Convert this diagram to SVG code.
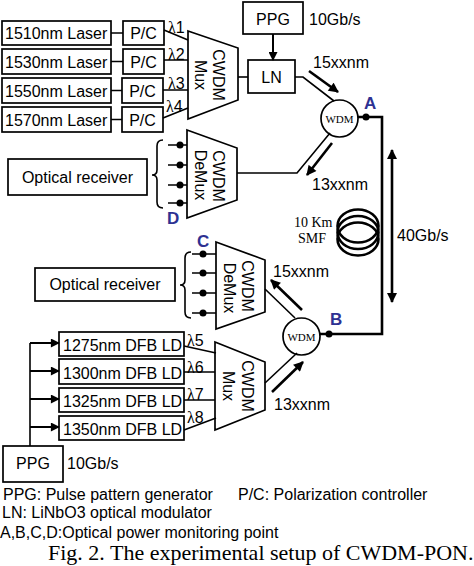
<svg xmlns="http://www.w3.org/2000/svg" width="474" height="566" viewBox="0 0 474 566">
<style>
.b{fill:#fff;stroke:#000;stroke-width:1.7}
.l{fill:none;stroke:#000;stroke-width:1.6}
.tl{fill:none;stroke:#000;stroke-width:2.6}
.t{font-family:"Liberation Sans",Arial,sans-serif;font-size:16px;fill:#000}
.s{font-family:"Liberation Serif","Times New Roman",serif;fill:#000}
.g{font-family:"Liberation Serif","Times New Roman",serif}
.m{text-anchor:middle}
.pt{font-family:"Liberation Sans",Arial,sans-serif;font-size:17px;font-weight:bold;fill:#2e3192}
</style>
<defs>
<marker id="ah" viewBox="0 0 10 10" refX="9" refY="5" markerWidth="11" markerHeight="10" markerUnits="userSpaceOnUse" orient="auto-start-reverse"><path d="M0,0 L10,5 L0,10 z" fill="#000"/></marker>
<marker id="ahs" viewBox="0 0 10 10" refX="9" refY="5" markerWidth="10" markerHeight="9" markerUnits="userSpaceOnUse" orient="auto"><path d="M0,0 L10,5 L0,10 z" fill="#000"/></marker>
</defs>

<g id="laser1510"><rect class="b" x="2" y="21" width="109" height="24"/><text class="t" x="5" y="39">1510nm Laser</text></g>
<g id="laser1530"><rect class="b" x="2" y="49" width="109" height="25"/><text class="t" x="5" y="68">1530nm Laser</text></g>
<g id="laser1550"><rect class="b" x="2" y="78" width="109" height="25"/><text class="t" x="5" y="97">1550nm Laser</text></g>
<g id="laser1570"><rect class="b" x="2" y="107" width="109" height="25"/><text class="t" x="5" y="126">1570nm Laser</text></g>

<g id="pc1"><rect class="b" x="123" y="21" width="41" height="24"/><text class="t m" x="143.5" y="39">P/C</text></g>
<g id="pc2"><rect class="b" x="123" y="49" width="41" height="25"/><text class="t m" x="143.5" y="68">P/C</text></g>
<g id="pc3"><rect class="b" x="122" y="78" width="41" height="25"/><text class="t m" x="142.5" y="97">P/C</text></g>
<g id="pc4"><rect class="b" x="122" y="107" width="41" height="25"/><text class="t m" x="142.5" y="126">P/C</text></g>

<g id="mux1"><polygon class="b" points="188,31 238,48 238,100 188,119"/>
<text class="t m" transform="translate(213,75) rotate(90)">CWDM</text>
<text class="t m" transform="translate(195,75) rotate(90)">Mux</text></g>

<g id="ppg1"><rect class="b" x="243" y="2" width="60" height="32"/><text class="t m" x="273" y="25">PPG</text><text class="t" x="309" y="25">10Gb/s</text></g>
<g id="ln"><rect class="b" x="248" y="60" width="47" height="33"/><text class="t m" x="271.5" y="83">LN</text></g>

<g id="wdmA"><circle class="b" cx="339.5" cy="118.5" r="18.5"/><text class="s m" x="339.5" y="122.5" font-size="11">WDM</text></g>

<g id="demux1"><polygon class="b" points="187,130 237,148 237,200 187,218"/>
<text class="t m" transform="translate(213,176) rotate(90)">CWDM</text>
<text class="t m" transform="translate(195,175) rotate(90)">DeMux</text></g>
<g id="rx1"><rect class="b" x="8" y="159" width="139" height="36"/><text class="t m" x="77.5" y="183">Optical receiver</text></g>

<g id="fiber"><ellipse class="tl" cx="358" cy="226" rx="20.5" ry="16.5"/><ellipse class="tl" cx="358" cy="232.5" rx="20.5" ry="16.5"/><ellipse class="tl" cx="358" cy="239" rx="20.5" ry="16.5"/>
<text class="s" x="294" y="227" font-size="14">10 Km</text><text class="s" x="298" y="243" font-size="14">SMF</text></g>

<g id="demux2"><polygon class="b" points="216,242 265,260 265,312 216,329"/>
<text class="t m" transform="translate(242,286) rotate(90)">CWDM</text>
<text class="t m" transform="translate(224,288) rotate(90)">DeMux</text></g>
<g id="rx2"><rect class="b" x="35" y="268" width="140" height="33"/><text class="t m" x="105" y="290">Optical receiver</text></g>

<g id="wdmB"><circle class="b" cx="301.5" cy="336.5" r="18.5"/><text class="s m" x="301.5" y="340.5" font-size="11">WDM</text></g>

<g id="mux2"><polygon class="b" points="215,342 265,362 265,410 215,430"/>
<text class="t m" transform="translate(242,386) rotate(90)">CWDM</text>
<text class="t m" transform="translate(223,386) rotate(90)">Mux</text></g>

<g id="ld1275"><rect class="b" x="59" y="332" width="125" height="24"/><text class="t" x="63" y="351">1275nm DFB LD</text></g>
<g id="ld1300"><rect class="b" x="59" y="359" width="125" height="25"/><text class="t" x="63" y="379">1300nm DFB LD</text></g>
<g id="ld1325"><rect class="b" x="59" y="388" width="125" height="24"/><text class="t" x="63" y="407">1325nm DFB LD</text></g>
<g id="ld1350"><rect class="b" x="59" y="416" width="125" height="24"/><text class="t" x="63" y="435">1350nm DFB LD</text></g>

<g id="ppg2"><rect class="b" x="3" y="446" width="60" height="36"/><text class="t m" x="33" y="469">PPG</text><text class="t" x="67" y="469">10Gb/s</text></g>

<g id="connectors">
<path class="l" d="M111,33 H123 M111,61.5 H123 M111,90.5 H122 M111,119.5 H122"/>
<path class="l" d="M164,30 L188,40 M164,60 H188 M163,90 H188 M163,118 L188,108"/>
<text class="t" x="168" y="33"><tspan class="g">λ</tspan>1</text><text class="t" x="168" y="60"><tspan class="g">λ</tspan>2</text><text class="t" x="168" y="89"><tspan class="g">λ</tspan>3</text><text class="t" x="166" y="112"><tspan class="g">λ</tspan>4</text>
<path class="l" d="M238,77 H248"/>
<line x1="273" y1="34" x2="273" y2="60" stroke="#000" stroke-width="2" marker-end="url(#ahs)"/>
<path class="l" d="M295,77 H303 L334,101"/>
<line x1="309" y1="71" x2="338" y2="92" stroke="#000" stroke-width="2.6" marker-end="url(#ah)"/>
<text class="t" x="313" y="68">15xxnm</text>
<path class="tl" d="M358,117 H382 V334 H320"/>
<circle cx="366" cy="117" r="3.5" fill="#000"/><text class="pt" x="364" y="109">A</text>
<circle cx="329" cy="334" r="3.5" fill="#000"/><text class="pt" x="330" y="325">B</text>
<line x1="392" y1="150" x2="392" y2="302" stroke="#000" stroke-width="2.6" marker-start="url(#ah)" marker-end="url(#ah)"/>
<text class="t" x="397" y="241">40Gb/s</text>
<path class="l" d="M330,133 L297,173 H237"/>
<line x1="332" y1="143" x2="307" y2="175" stroke="#000" stroke-width="2.6" marker-end="url(#ah)"/>
<text class="t" x="312" y="190">13xxnm</text>
<path class="l" d="M168,145 H187 M168,165 H187 M168,185 H187 M168,203 H187"/>
<g fill="#000"><circle cx="180" cy="145" r="3.5"/><circle cx="180" cy="165" r="3.5"/><circle cx="180" cy="185" r="3.5"/><circle cx="180" cy="203" r="3.5"/></g>
<path class="l" d="M163,140 Q157,140 157,146 V170 Q157,175 152,175 Q157,175 157,180 V202 Q157,208 163,208"/>
<text class="pt" x="167" y="224">D</text>
<path class="l" d="M295,318 L265,289"/>
<line x1="302" y1="310" x2="271" y2="280" stroke="#000" stroke-width="2.6" marker-end="url(#ah)"/>
<text class="t" x="273" y="277">15xxnm</text>
<path class="l" d="M192,254 H216 M192,273 H216 M192,293 H216 M192,313 H216"/>
<g fill="#000"><circle cx="203" cy="254" r="3.5"/><circle cx="203" cy="273" r="3.5"/><circle cx="203" cy="293" r="3.5"/><circle cx="203" cy="313" r="3.5"/></g>
<path class="l" d="M191,252 Q185,252 185,258 V280 Q185,285 180,285 Q185,285 185,290 V312 Q185,318 191,318"/>
<text class="pt" x="197" y="247">C</text>
<path class="l" d="M265,383 L297,353"/>
<line x1="272" y1="392" x2="303" y2="362" stroke="#000" stroke-width="2.6" marker-end="url(#ah)"/>
<text class="t" x="274" y="410">13xxnm</text>
<path class="l" d="M184,346 L216,353 M184,372 H215 M184,400 H215 M184,430 L216,418"/>
<text class="t" x="187" y="346"><tspan class="g">λ</tspan>5</text><text class="t" x="187" y="373"><tspan class="g">λ</tspan>6</text><text class="t" x="187" y="400"><tspan class="g">λ</tspan>7</text><text class="t" x="187" y="423"><tspan class="g">λ</tspan>8</text>
<path class="l" d="M30,446 V343"/>
<g stroke="#000" stroke-width="2"><line x1="30" y1="343" x2="59" y2="343" marker-end="url(#ahs)"/><line x1="30" y1="371" x2="59" y2="371" marker-end="url(#ahs)"/><line x1="30" y1="399" x2="59" y2="399" marker-end="url(#ahs)"/><line x1="30" y1="427" x2="59" y2="427" marker-end="url(#ahs)"/></g>
</g>

<g id="legend">
<text class="t" x="3" y="500">PPG: Pulse pattern generator</text>
<text class="t" x="238" y="500">P/C: Polarization controller</text>
<text class="t" x="2" y="518">LN: LiNbO3 optical modulator</text>
<text class="t" x="0" y="538">A,B,C,D:Optical power monitoring point</text>
<text class="s" x="48" y="560" font-size="22">Fig. 2. The experimental setup of CWDM-PON.</text>
</g>
</svg>
